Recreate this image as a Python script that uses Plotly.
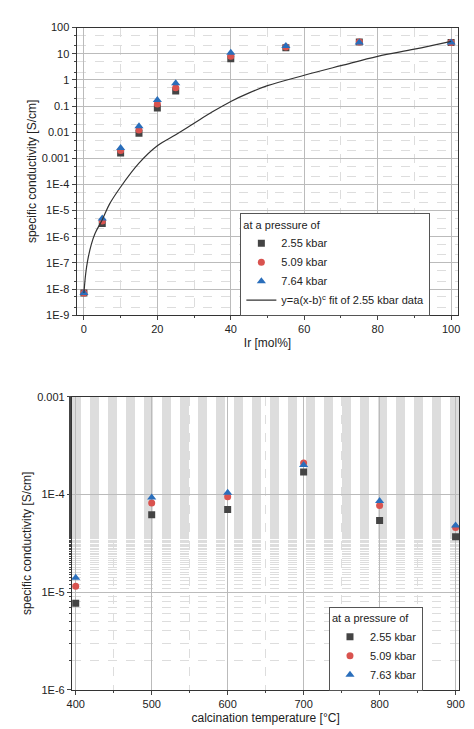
import plotly.graph_objects as go

# top panel: Ir content
ir = [0, 5, 10, 15, 20, 25, 40, 55, 75, 100]
s255 = [7e-9, 3.2e-6, 1.6e-3, 9e-3, 0.085, 0.38, 6.5, 17, 28, 27]
s509 = [7e-9, 4e-6, 2e-3, 1.2e-2, 0.12, 0.5, 8, 18, 28, 27]
s764 = [7e-9, 5e-6, 2.5e-3, 1.7e-2, 0.17, 0.75, 11, 20, 27, 27]

fit_x = [0, 0.5, 1, 2, 3, 5, 7, 10, 15, 20, 25, 30, 35, 40, 45, 50, 60, 70, 80, 90, 100]
fit_y = [7e-9, 4e-8, 1.2e-7, 5e-7, 1.3e-6, 4.5e-6, 1.8e-5, 8e-5, 6.5e-4, 3e-3, 8e-3, 2.2e-2, 6e-2, 0.15,
         0.32, 0.6, 1.5, 3.5, 8, 15, 30]

# bottom panel: calcination temperature
temp = [400, 500, 600, 700, 800, 900]
t255 = [7.7e-6, 6.2e-5, 7e-5, 1.7e-4, 5.4e-5, 3.7e-5]
t509 = [1.15e-5, 8.2e-5, 9.5e-5, 2.1e-4, 7.7e-5, 4.6e-5]
t763 = [1.4e-5, 9.3e-5, 1.04e-4, 2e-4, 8.6e-5, 4.8e-5]

top_ticks = [1e-9, 1e-8, 1e-7, 1e-6, 1e-5, 1e-4, 1e-3, 1e-2, 0.1, 1, 10, 100]
top_text = ["1E-9", "1E-8", "1E-7", "1E-6", "1E-5", "1E-4", "0.001", "0.01", "0.1", "1", "10", "100"]
bot_ticks = [1e-6, 1e-5, 1e-4, 1e-3]
bot_text = ["1E-6", "1E-5", "1E-4", "0.001"]

GREY = "#444444"
RED = "#d9534f"
BLUE = "#2a6ebb"
FONT = "Liberation Sans"

fig = go.Figure()
mk = dict(size=7)
fig.add_trace(go.Scatter(x=ir, y=s255, mode="markers", name="2.55 kbar",
                         marker=dict(symbol="square", color=GREY, **mk), legend="legend"))
fig.add_trace(go.Scatter(x=ir, y=s509, mode="markers", name="5.09 kbar",
                         marker=dict(symbol="circle", color=RED, **mk), legend="legend"))
fig.add_trace(go.Scatter(x=ir, y=s764, mode="markers", name="7.64 kbar",
                         marker=dict(symbol="triangle-up", color=BLUE, size=8), legend="legend"))
fig.add_trace(go.Scatter(x=fit_x, y=fit_y, mode="lines", line=dict(color="#333333", width=1.2, shape="spline"),
                         name="y=a(x-b)<sup>c</sup> fit of 2.55 kbar data", legend="legend"))

fig.add_trace(go.Scatter(x=temp, y=t255, mode="markers", name="2.55 kbar", xaxis="x2", yaxis="y2",
                         marker=dict(symbol="square", color=GREY, **mk), legend="legend2"))
fig.add_trace(go.Scatter(x=temp, y=t509, mode="markers", name="5.09 kbar", xaxis="x2", yaxis="y2",
                         marker=dict(symbol="circle", color=RED, **mk), legend="legend2"))
fig.add_trace(go.Scatter(x=temp, y=t763, mode="markers", name="7.63 kbar", xaxis="x2", yaxis="y2",
                         marker=dict(symbol="triangle-up", color=BLUE, size=8), legend="legend2"))

ax = dict(showline=True, linecolor="#333", mirror=True, ticks="outside", ticklen=4,
          gridcolor="#bbbbbb", zeroline=False, tickfont=dict(size=11, color="#222"),
          title_font=dict(size=12, color="#222"))
minor = dict(showgrid=True, griddash="dash", gridcolor="#dddddd", ticks="outside", ticklen=2)

leg = dict(bgcolor="white", bordercolor="#555", borderwidth=1, font=dict(size=11, color="#222"),
           title=dict(text="at a pressure of", font=dict(size=11, color="#222")),
           xanchor="left", yanchor="top", tracegroupgap=0)

fig.update_layout(
    width=474, height=729, margin=dict(l=0, r=0, t=0, b=0),
    paper_bgcolor="white", plot_bgcolor="white",
    font=dict(family=FONT),
    xaxis=dict(ax, domain=[0.137, 0.960], range=[-2, 102], tick0=0, dtick=20,
               minor=dict(minor, tick0=0, dtick=10), title=dict(text="Ir [mol%]", standoff=4), anchor="y"),
    yaxis=dict(ax, domain=[0.580, 0.981], type="log", range=[-9, 2], tickvals=top_ticks, ticktext=top_text,
               minor=minor, title=dict(text="specific conductivity [S/cm]", standoff=2), anchor="x"),
    xaxis2=dict(ax, domain=[0.127, 0.962], range=[395, 905], tickmode="linear", tick0=400, dtick=100,
                minor=dict(minor, tickmode="linear", tick0=400, dtick=50),
                title=dict(text="calcination temperature [°C]", standoff=4), anchor="y2"),
    yaxis2=dict(ax, domain=[0.0576, 0.466], type="log", range=[-6, -3], tickvals=bot_ticks, ticktext=bot_text,
                minor=minor, title=dict(text="specific conductivity [S/cm]", standoff=2), anchor="x2"),
    legend=dict(leg, x=0.49, y=0.722),
    legend2=dict(leg, x=0.681, y=0.173),
)

fig.write_html("out.html")
